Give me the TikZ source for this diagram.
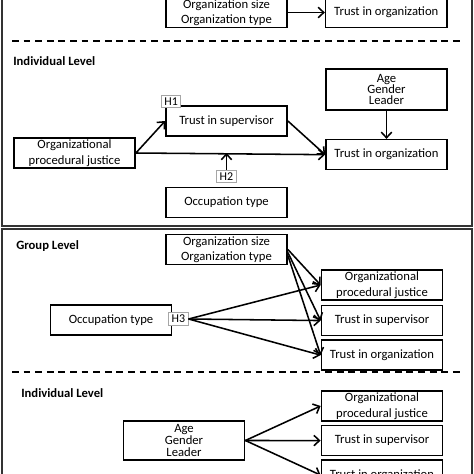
\documentclass[tikz,border=0pt]{standalone}
\usepackage{fontspec}
\setmainfont{Carlito}
\usetikzlibrary{positioning,arrows.meta,calc}

\begin{document}
\begin{tikzpicture}[
  x=0.025cm, y=-0.025cm,
  box/.style={draw, line width=1.1pt, minimum width=3.03cm,
              minimum height=0.75cm, inner sep=0pt, align=center,
              font=\fontsize{9}{11}\selectfont},
  hbox/.style={draw=gray!70, line width=0.7pt, fill=white,
               inner xsep=2pt, inner ysep=1.5pt,
               font=\fontsize{8.5}{9}\selectfont},
  level/.style={anchor=west, inner sep=0pt,
                font=\fontsize{9}{10}\selectfont\bfseries},
  panel/.style={draw=black!80, line width=1.4pt},
  sep/.style={line width=1.1pt, dash pattern=on 0.17cm off 0.12cm},
  arr/.style={->, line width=1.1pt},
  >={Straight Barb[length=1.4mm,width=2.6mm]}
]
  \useasboundingbox (0,0) rectangle (474,474);
  \clip (0,0) rectangle (474,474);

  % Panels
  \draw[panel] (2,-20) rectangle (472,226);
  \draw[panel] (2,229) rectangle (472,500);

  % Top panel, group part (cut)
  \node[box] (orgA) at (226.5,12.5)
    {Organization size\\Organization type};
  \node[box, right=0.925cm of orgA] (tioA)
    {Trust in organization};
  \draw[arr] (orgA) -- (tioA);

  \draw[sep] (12,41) -- (462,41);

  % Top panel, individual part
  \node[level] (indA) at (13,61) {Individual Level};
  \node[box, minimum height=1.03cm, font=\fontsize{9}{8}\selectfont]
    (demA) at (386.5,89.5) {Age\\Gender\\Leader};
  \node[box, below=0.7cm of demA] (tioB)
    {Trust in organization};
  \node[box] (tisA) at (226.5,121)
    {Trust in supervisor};
  \node[box] (opjA) at (74.5,153)
    {Organizational\\procedural justice};
  \node[box, below=1.25cm of tisA] (occA)
    {Occupation type};

  % Hypotheses
  \node[hbox] (h1) at ($(tisA.north west)+(6,-3.5)$) {H1};
  \node[hbox, above=0.1cm of occA] (h2) {H2};

  % Arrows
  \draw[arr] (opjA.east) -- (tisA.west);
  \draw[arr] (tisA.east) -- (tioB.west);
  \draw[arr] (opjA.east) -- (tioB.west);
  \draw[arr] (demA) -- (tioB);
  \draw[arr] (h2) -- (h2 |- opjA.east);

  % Bottom panel, group part
  \node[level] (grpB) at (16,246) {Group Level};
  \node[box] (orgB) at (226.5,249.5)
    {Organization size\\Organization type};
  \node[box] (opjB) at (382,285)
    {Organizational\\procedural justice};
  \node[box, below=0.1cm of opjB] (tisB)
    {Trust in supervisor};
  \node[box, below=0.075cm of tisB] (tioC)
    {Trust in organization};
  \node[box] (occB) at (111,320)
    {Occupation type};
  \node[hbox] (h3) at (178.5,319) {H3};

  \foreach \t/\s in {opjB/0, tisB/3, tioC/6} {
    \draw[arr] (h3.east) -- (\t.west);
    \draw[arr] ([yshift=-\s*0.025cm]orgB.east) -- (\t.west);
  }

  \draw[sep] (12,372) -- (463,372);

  % Bottom panel, individual part
  \node[level] (indB) at (21,393) {Individual Level};
  \node[box] (opjC) at (382,406)
    {Organizational\\procedural justice};
  \node[box, below=0.075cm of opjC] (tisC)
    {Trust in supervisor};
  \node[box, below=0.075cm of tisC] (tioD)
    {Trust in organization};
  \node[box, minimum height=0.98cm, font=\fontsize{9}{8.5}\selectfont]
    (demB) at (184,440.5) {Age\\Gender\\Leader};

  \foreach \t in {opjC, tisC, tioD}
    \draw[arr] (demB.east) -- (\t.west);
\end{tikzpicture}
\end{document}
